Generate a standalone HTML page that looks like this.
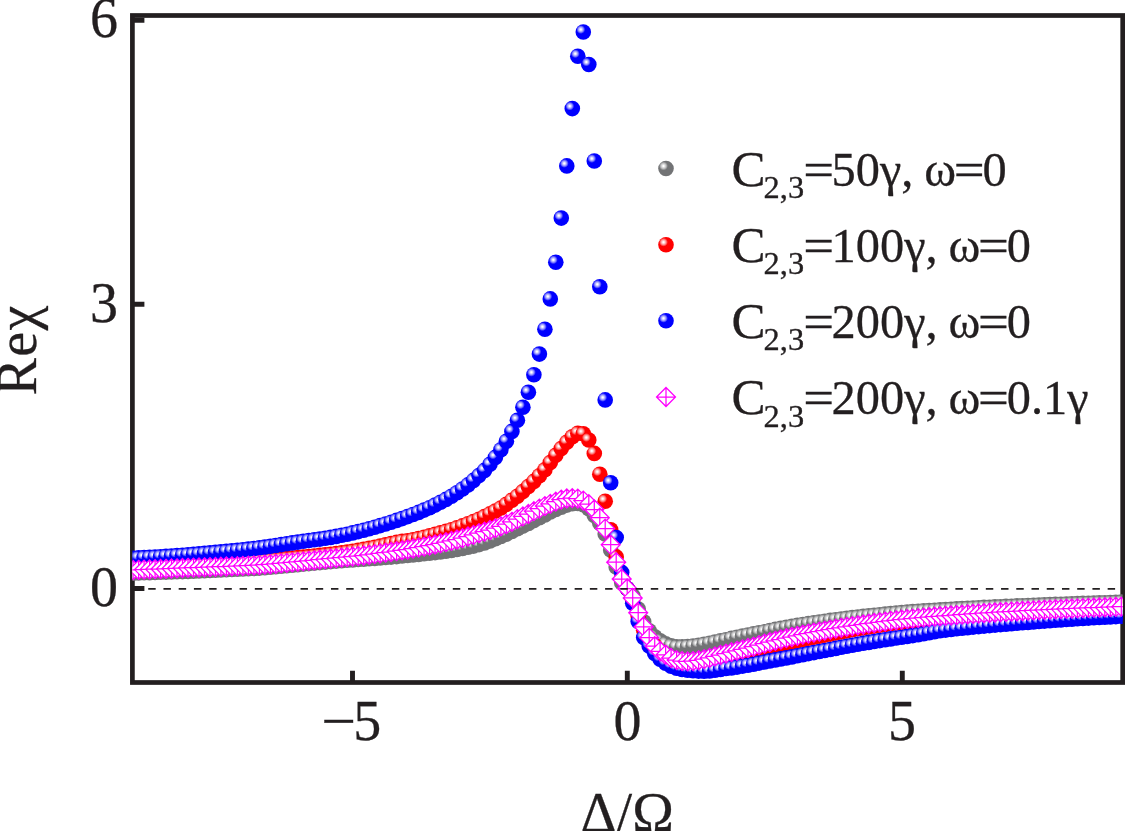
<!DOCTYPE html>
<html><head><meta charset="utf-8"><title>Re chi vs Delta/Omega</title>
<style>
html,body{margin:0;padding:0;background:#fff;}
body{width:1125px;height:831px;overflow:hidden;position:relative;}
svg{position:absolute;left:0;top:0;display:block;}
text{font-family:"Liberation Serif",serif;fill:#231f20;stroke:#231f20;stroke-width:0.3px;}
</style></head><body>
<svg width="1125" height="831" viewBox="0 0 1125 831">
<defs>
<radialGradient id="gg" gradientUnits="userSpaceOnUse" cx="-2.5" cy="-2.5" r="4.4"><stop offset="0" stop-color="#fff"/><stop offset="0.12" stop-color="#fff"/><stop offset="0.6" stop-color="#bfbfc0"/><stop offset="1" stop-color="#727375"/></radialGradient>
<radialGradient id="gr" gradientUnits="userSpaceOnUse" cx="-2.5" cy="-2.5" r="4.4"><stop offset="0" stop-color="#fff"/><stop offset="0.12" stop-color="#fff"/><stop offset="0.6" stop-color="#ff8c8c"/><stop offset="1" stop-color="#ff0000"/></radialGradient>
<radialGradient id="gb" gradientUnits="userSpaceOnUse" cx="-2.5" cy="-2.5" r="4.4"><stop offset="0" stop-color="#fff"/><stop offset="0.12" stop-color="#fff"/><stop offset="0.6" stop-color="#8c8cff"/><stop offset="1" stop-color="#0000ff"/></radialGradient>
<circle id="b" r="7.8"/>
<path id="d" d="M0-9.5L9.5 0L0 9.5L-9.5 0ZM0-9.5V9.5M-9.5 0H9.5" fill="#fff" stroke="#ff00ff" stroke-width="1.25" stroke-linejoin="miter"/>
<clipPath id="cp"><rect x="132.4" y="15.5" width="990.3" height="667"/></clipPath>
</defs>
<rect x="132.4" y="15.5" width="990.3" height="667" fill="none" stroke="#231f20" stroke-width="4.7"/>
<g stroke="#231f20" stroke-width="4.9" fill="none">
<path d="M134 20.3H144.4M134 304.2H144.4M134 588.5H144.4"/>
<path d="M352.5 681V670.8M627.3 681V670.8M902.3 681V670.8"/>
</g>
<g clip-path="url(#cp)">
<g fill="url(#gg)"><use href="#b" x="133.1" y="573.2"/><use href="#b" x="138.6" y="573.0"/><use href="#b" x="144.1" y="572.8"/><use href="#b" x="149.6" y="572.7"/><use href="#b" x="155.1" y="572.5"/><use href="#b" x="160.6" y="572.3"/><use href="#b" x="166.0" y="572.1"/><use href="#b" x="171.5" y="572.0"/><use href="#b" x="177.0" y="571.8"/><use href="#b" x="182.5" y="571.6"/><use href="#b" x="188.0" y="571.4"/><use href="#b" x="193.5" y="571.2"/><use href="#b" x="199.0" y="570.9"/><use href="#b" x="204.5" y="570.7"/><use href="#b" x="210.0" y="570.5"/><use href="#b" x="215.5" y="570.3"/><use href="#b" x="220.9" y="570.0"/><use href="#b" x="226.4" y="569.8"/><use href="#b" x="231.9" y="569.5"/><use href="#b" x="237.4" y="569.3"/><use href="#b" x="242.9" y="569.0"/><use href="#b" x="248.4" y="568.7"/><use href="#b" x="253.9" y="568.4"/><use href="#b" x="259.4" y="568.1"/><use href="#b" x="264.9" y="567.7"/><use href="#b" x="270.4" y="567.3"/><use href="#b" x="275.8" y="566.8"/><use href="#b" x="281.3" y="566.3"/><use href="#b" x="286.8" y="565.8"/><use href="#b" x="292.3" y="565.2"/><use href="#b" x="297.8" y="564.7"/><use href="#b" x="303.3" y="564.1"/><use href="#b" x="308.8" y="563.6"/><use href="#b" x="314.3" y="563.1"/><use href="#b" x="319.8" y="562.6"/><use href="#b" x="325.3" y="562.1"/><use href="#b" x="330.7" y="561.6"/><use href="#b" x="336.2" y="561.1"/><use href="#b" x="341.7" y="560.7"/><use href="#b" x="347.2" y="560.3"/><use href="#b" x="352.7" y="559.9"/><use href="#b" x="358.2" y="559.5"/><use href="#b" x="363.7" y="559.2"/><use href="#b" x="369.2" y="558.8"/><use href="#b" x="374.7" y="558.4"/><use href="#b" x="380.2" y="557.9"/><use href="#b" x="385.6" y="557.5"/><use href="#b" x="391.1" y="557.1"/><use href="#b" x="396.6" y="556.6"/><use href="#b" x="402.1" y="556.0"/><use href="#b" x="407.6" y="555.5"/><use href="#b" x="413.1" y="554.9"/><use href="#b" x="418.6" y="554.4"/><use href="#b" x="424.1" y="553.8"/><use href="#b" x="429.6" y="553.3"/><use href="#b" x="435.1" y="552.6"/><use href="#b" x="440.5" y="552.0"/><use href="#b" x="446.0" y="551.2"/><use href="#b" x="451.5" y="550.4"/><use href="#b" x="457.0" y="549.5"/><use href="#b" x="462.5" y="548.5"/><use href="#b" x="468.0" y="547.3"/><use href="#b" x="473.5" y="546.1"/><use href="#b" x="479.0" y="544.6"/><use href="#b" x="484.5" y="542.9"/><use href="#b" x="490.0" y="540.9"/><use href="#b" x="495.4" y="538.8"/><use href="#b" x="500.9" y="536.5"/><use href="#b" x="506.4" y="534.1"/><use href="#b" x="511.9" y="531.5"/><use href="#b" x="517.4" y="528.7"/><use href="#b" x="522.9" y="526.1"/><use href="#b" x="528.4" y="523.4"/><use href="#b" x="533.9" y="520.6"/><use href="#b" x="539.4" y="517.8"/><use href="#b" x="544.9" y="514.9"/><use href="#b" x="550.3" y="512.0"/><use href="#b" x="555.8" y="509.4"/><use href="#b" x="561.3" y="507.2"/><use href="#b" x="566.8" y="505.1"/><use href="#b" x="572.3" y="503.7"/><use href="#b" x="577.8" y="503.4"/><use href="#b" x="583.3" y="504.7"/><use href="#b" x="588.8" y="508.7"/><use href="#b" x="594.3" y="515.4"/><use href="#b" x="599.8" y="523.2"/><use href="#b" x="605.2" y="534.0"/><use href="#b" x="610.7" y="549.9"/><use href="#b" x="616.2" y="567.0"/><use href="#b" x="621.7" y="582.8"/><use href="#b" x="627.2" y="588.5"/><use href="#b" x="632.7" y="595.6"/><use href="#b" x="638.2" y="609.0"/><use href="#b" x="643.7" y="621.7"/><use href="#b" x="649.2" y="630.8"/><use href="#b" x="654.7" y="636.7"/><use href="#b" x="660.1" y="640.8"/><use href="#b" x="665.6" y="643.8"/><use href="#b" x="671.1" y="645.8"/><use href="#b" x="676.6" y="646.9"/><use href="#b" x="682.1" y="646.9"/><use href="#b" x="687.6" y="646.6"/><use href="#b" x="693.1" y="646.0"/><use href="#b" x="698.6" y="645.3"/><use href="#b" x="704.1" y="644.3"/><use href="#b" x="709.6" y="643.2"/><use href="#b" x="715.0" y="642.1"/><use href="#b" x="720.5" y="640.9"/><use href="#b" x="726.0" y="639.7"/><use href="#b" x="731.5" y="638.4"/><use href="#b" x="737.0" y="637.2"/><use href="#b" x="742.5" y="636.1"/><use href="#b" x="748.0" y="635.0"/><use href="#b" x="753.5" y="633.9"/><use href="#b" x="759.0" y="632.8"/><use href="#b" x="764.5" y="631.7"/><use href="#b" x="769.9" y="630.5"/><use href="#b" x="775.4" y="629.4"/><use href="#b" x="780.9" y="628.4"/><use href="#b" x="786.4" y="627.4"/><use href="#b" x="791.9" y="626.4"/><use href="#b" x="797.4" y="625.4"/><use href="#b" x="802.9" y="624.5"/><use href="#b" x="808.4" y="623.6"/><use href="#b" x="813.9" y="622.8"/><use href="#b" x="819.4" y="622.0"/><use href="#b" x="824.8" y="621.2"/><use href="#b" x="830.3" y="620.4"/><use href="#b" x="835.8" y="619.7"/><use href="#b" x="841.3" y="619.0"/><use href="#b" x="846.8" y="618.3"/><use href="#b" x="852.3" y="617.6"/><use href="#b" x="857.8" y="617.0"/><use href="#b" x="863.3" y="616.4"/><use href="#b" x="868.8" y="615.8"/><use href="#b" x="874.2" y="615.2"/><use href="#b" x="879.7" y="614.7"/><use href="#b" x="885.2" y="614.1"/><use href="#b" x="890.7" y="613.6"/><use href="#b" x="896.2" y="613.0"/><use href="#b" x="901.7" y="612.5"/><use href="#b" x="907.2" y="612.0"/><use href="#b" x="912.7" y="611.6"/><use href="#b" x="918.2" y="611.2"/><use href="#b" x="923.7" y="610.8"/><use href="#b" x="929.2" y="610.5"/><use href="#b" x="934.6" y="610.2"/><use href="#b" x="940.1" y="609.9"/><use href="#b" x="945.6" y="609.6"/><use href="#b" x="951.1" y="609.2"/><use href="#b" x="956.6" y="608.9"/><use href="#b" x="962.1" y="608.6"/><use href="#b" x="967.6" y="608.3"/><use href="#b" x="973.1" y="608.0"/><use href="#b" x="978.6" y="607.7"/><use href="#b" x="984.0" y="607.4"/><use href="#b" x="989.5" y="607.2"/><use href="#b" x="995.0" y="606.9"/><use href="#b" x="1000.5" y="606.7"/><use href="#b" x="1006.0" y="606.4"/><use href="#b" x="1011.5" y="606.2"/><use href="#b" x="1017.0" y="605.9"/><use href="#b" x="1022.5" y="605.7"/><use href="#b" x="1028.0" y="605.5"/><use href="#b" x="1033.5" y="605.2"/><use href="#b" x="1039.0" y="605.0"/><use href="#b" x="1044.4" y="604.8"/><use href="#b" x="1049.9" y="604.6"/><use href="#b" x="1055.4" y="604.4"/><use href="#b" x="1060.9" y="604.2"/><use href="#b" x="1066.4" y="604.0"/><use href="#b" x="1071.9" y="603.8"/><use href="#b" x="1077.4" y="603.6"/><use href="#b" x="1082.9" y="603.4"/><use href="#b" x="1088.4" y="603.2"/><use href="#b" x="1093.8" y="603.0"/><use href="#b" x="1099.3" y="602.8"/><use href="#b" x="1104.8" y="602.7"/><use href="#b" x="1110.3" y="602.5"/><use href="#b" x="1115.8" y="602.3"/><use href="#b" x="1121.3" y="602.1"/></g>
<g fill="url(#gr)"><use href="#b" x="133.1" y="566.3"/><use href="#b" x="138.6" y="566.2"/><use href="#b" x="144.1" y="566.1"/><use href="#b" x="149.6" y="565.9"/><use href="#b" x="155.1" y="565.8"/><use href="#b" x="160.6" y="565.7"/><use href="#b" x="166.0" y="565.5"/><use href="#b" x="171.5" y="565.3"/><use href="#b" x="177.0" y="565.2"/><use href="#b" x="182.5" y="565.0"/><use href="#b" x="188.0" y="564.7"/><use href="#b" x="193.5" y="564.5"/><use href="#b" x="199.0" y="564.3"/><use href="#b" x="204.5" y="564.0"/><use href="#b" x="210.0" y="563.8"/><use href="#b" x="215.5" y="563.5"/><use href="#b" x="220.9" y="563.2"/><use href="#b" x="226.4" y="562.9"/><use href="#b" x="231.9" y="562.6"/><use href="#b" x="237.4" y="562.3"/><use href="#b" x="242.9" y="561.9"/><use href="#b" x="248.4" y="561.6"/><use href="#b" x="253.9" y="561.2"/><use href="#b" x="259.4" y="560.8"/><use href="#b" x="264.9" y="560.4"/><use href="#b" x="270.4" y="560.0"/><use href="#b" x="275.8" y="559.5"/><use href="#b" x="281.3" y="559.1"/><use href="#b" x="286.8" y="558.6"/><use href="#b" x="292.3" y="558.1"/><use href="#b" x="297.8" y="557.6"/><use href="#b" x="303.3" y="557.1"/><use href="#b" x="308.8" y="556.6"/><use href="#b" x="314.3" y="556.0"/><use href="#b" x="319.8" y="555.4"/><use href="#b" x="325.3" y="554.8"/><use href="#b" x="330.7" y="554.2"/><use href="#b" x="336.2" y="553.5"/><use href="#b" x="341.7" y="552.8"/><use href="#b" x="347.2" y="552.0"/><use href="#b" x="352.7" y="551.2"/><use href="#b" x="358.2" y="550.3"/><use href="#b" x="363.7" y="549.3"/><use href="#b" x="369.2" y="548.2"/><use href="#b" x="374.7" y="547.2"/><use href="#b" x="380.2" y="546.1"/><use href="#b" x="385.6" y="544.9"/><use href="#b" x="391.1" y="543.6"/><use href="#b" x="396.6" y="542.4"/><use href="#b" x="402.1" y="541.2"/><use href="#b" x="407.6" y="540.8"/><use href="#b" x="413.1" y="539.7"/><use href="#b" x="418.6" y="538.5"/><use href="#b" x="424.1" y="537.2"/><use href="#b" x="429.6" y="535.8"/><use href="#b" x="435.1" y="534.3"/><use href="#b" x="440.5" y="532.9"/><use href="#b" x="446.0" y="531.3"/><use href="#b" x="451.5" y="529.7"/><use href="#b" x="457.0" y="527.8"/><use href="#b" x="462.5" y="525.9"/><use href="#b" x="468.0" y="523.8"/><use href="#b" x="473.5" y="521.6"/><use href="#b" x="479.0" y="519.2"/><use href="#b" x="484.5" y="516.6"/><use href="#b" x="490.0" y="513.9"/><use href="#b" x="495.4" y="511.1"/><use href="#b" x="500.9" y="508.0"/><use href="#b" x="506.4" y="504.3"/><use href="#b" x="511.9" y="500.2"/><use href="#b" x="517.4" y="496.2"/><use href="#b" x="522.9" y="491.6"/><use href="#b" x="528.4" y="486.5"/><use href="#b" x="533.9" y="481.4"/><use href="#b" x="539.4" y="475.7"/><use href="#b" x="544.9" y="469.8"/><use href="#b" x="550.3" y="462.6"/><use href="#b" x="555.8" y="455.3"/><use href="#b" x="561.3" y="448.6"/><use href="#b" x="566.8" y="442.3"/><use href="#b" x="572.3" y="436.8"/><use href="#b" x="577.8" y="433.2"/><use href="#b" x="583.3" y="433.7"/><use href="#b" x="588.8" y="440.0"/><use href="#b" x="594.3" y="453.4"/><use href="#b" x="599.8" y="474.2"/><use href="#b" x="605.2" y="501.2"/><use href="#b" x="610.7" y="529.8"/><use href="#b" x="616.2" y="556.9"/><use href="#b" x="621.7" y="578.1"/><use href="#b" x="627.2" y="588.5"/><use href="#b" x="632.7" y="599.9"/><use href="#b" x="638.2" y="616.0"/><use href="#b" x="643.7" y="630.2"/><use href="#b" x="649.2" y="638.5"/><use href="#b" x="654.7" y="645.5"/><use href="#b" x="660.1" y="651.2"/><use href="#b" x="665.6" y="655.7"/><use href="#b" x="671.1" y="659.1"/><use href="#b" x="676.6" y="661.5"/><use href="#b" x="682.1" y="663.1"/><use href="#b" x="687.6" y="663.9"/><use href="#b" x="693.1" y="664.2"/><use href="#b" x="698.6" y="664.1"/><use href="#b" x="704.1" y="663.5"/><use href="#b" x="709.6" y="662.6"/><use href="#b" x="715.0" y="661.4"/><use href="#b" x="720.5" y="660.0"/><use href="#b" x="726.0" y="658.5"/><use href="#b" x="731.5" y="657.3"/><use href="#b" x="737.0" y="656.0"/><use href="#b" x="742.5" y="654.6"/><use href="#b" x="748.0" y="653.3"/><use href="#b" x="753.5" y="652.0"/><use href="#b" x="759.0" y="650.4"/><use href="#b" x="764.5" y="648.9"/><use href="#b" x="769.9" y="647.4"/><use href="#b" x="775.4" y="646.0"/><use href="#b" x="780.9" y="644.6"/><use href="#b" x="786.4" y="643.2"/><use href="#b" x="791.9" y="642.0"/><use href="#b" x="797.4" y="640.7"/><use href="#b" x="802.9" y="639.5"/><use href="#b" x="808.4" y="638.3"/><use href="#b" x="813.9" y="637.2"/><use href="#b" x="819.4" y="636.2"/><use href="#b" x="824.8" y="635.1"/><use href="#b" x="830.3" y="634.1"/><use href="#b" x="835.8" y="633.0"/><use href="#b" x="841.3" y="631.9"/><use href="#b" x="846.8" y="630.9"/><use href="#b" x="852.3" y="629.8"/><use href="#b" x="857.8" y="628.8"/><use href="#b" x="863.3" y="627.9"/><use href="#b" x="868.8" y="626.9"/><use href="#b" x="874.2" y="626.1"/><use href="#b" x="879.7" y="625.2"/><use href="#b" x="885.2" y="624.4"/><use href="#b" x="890.7" y="623.6"/><use href="#b" x="896.2" y="622.9"/><use href="#b" x="901.7" y="622.2"/><use href="#b" x="907.2" y="621.6"/><use href="#b" x="912.7" y="621.1"/><use href="#b" x="918.2" y="620.5"/><use href="#b" x="923.7" y="620.0"/><use href="#b" x="929.2" y="619.4"/><use href="#b" x="934.6" y="618.9"/><use href="#b" x="940.1" y="618.4"/><use href="#b" x="945.6" y="617.9"/><use href="#b" x="951.1" y="617.4"/><use href="#b" x="956.6" y="617.0"/><use href="#b" x="962.1" y="616.5"/><use href="#b" x="967.6" y="616.1"/><use href="#b" x="973.1" y="615.7"/><use href="#b" x="978.6" y="615.3"/><use href="#b" x="984.0" y="614.8"/><use href="#b" x="989.5" y="614.5"/><use href="#b" x="995.0" y="614.1"/><use href="#b" x="1000.5" y="613.7"/><use href="#b" x="1006.0" y="613.3"/><use href="#b" x="1011.5" y="613.0"/><use href="#b" x="1017.0" y="612.7"/><use href="#b" x="1022.5" y="612.3"/><use href="#b" x="1028.0" y="612.0"/><use href="#b" x="1033.5" y="611.7"/><use href="#b" x="1039.0" y="611.4"/><use href="#b" x="1044.4" y="611.1"/><use href="#b" x="1049.9" y="610.8"/><use href="#b" x="1055.4" y="610.5"/><use href="#b" x="1060.9" y="610.2"/><use href="#b" x="1066.4" y="609.9"/><use href="#b" x="1071.9" y="609.6"/><use href="#b" x="1077.4" y="609.4"/><use href="#b" x="1082.9" y="609.1"/><use href="#b" x="1088.4" y="608.9"/><use href="#b" x="1093.8" y="608.6"/><use href="#b" x="1099.3" y="608.4"/><use href="#b" x="1104.8" y="608.1"/><use href="#b" x="1110.3" y="607.9"/><use href="#b" x="1115.8" y="607.7"/><use href="#b" x="1121.3" y="607.4"/></g>
<g fill="url(#gb)"><use href="#b" x="133.1" y="558.2"/><use href="#b" x="138.6" y="557.9"/><use href="#b" x="144.1" y="557.6"/><use href="#b" x="149.6" y="557.3"/><use href="#b" x="155.1" y="557.0"/><use href="#b" x="160.6" y="556.7"/><use href="#b" x="166.0" y="556.3"/><use href="#b" x="171.5" y="556.0"/><use href="#b" x="177.0" y="555.6"/><use href="#b" x="182.5" y="555.2"/><use href="#b" x="188.0" y="554.8"/><use href="#b" x="193.5" y="554.3"/><use href="#b" x="199.0" y="553.9"/><use href="#b" x="204.5" y="553.4"/><use href="#b" x="210.0" y="552.9"/><use href="#b" x="215.5" y="552.4"/><use href="#b" x="220.9" y="551.9"/><use href="#b" x="226.4" y="551.4"/><use href="#b" x="231.9" y="550.9"/><use href="#b" x="237.4" y="550.3"/><use href="#b" x="242.9" y="549.7"/><use href="#b" x="248.4" y="549.1"/><use href="#b" x="253.9" y="548.5"/><use href="#b" x="259.4" y="547.8"/><use href="#b" x="264.9" y="547.1"/><use href="#b" x="270.4" y="546.3"/><use href="#b" x="275.8" y="545.5"/><use href="#b" x="281.3" y="544.6"/><use href="#b" x="286.8" y="543.8"/><use href="#b" x="292.3" y="542.9"/><use href="#b" x="297.8" y="542.1"/><use href="#b" x="303.3" y="541.3"/><use href="#b" x="308.8" y="540.5"/><use href="#b" x="314.3" y="539.8"/><use href="#b" x="319.8" y="539.1"/><use href="#b" x="325.3" y="538.3"/><use href="#b" x="330.7" y="537.4"/><use href="#b" x="336.2" y="536.4"/><use href="#b" x="341.7" y="535.3"/><use href="#b" x="347.2" y="534.2"/><use href="#b" x="352.7" y="532.9"/><use href="#b" x="358.2" y="531.6"/><use href="#b" x="363.7" y="530.2"/><use href="#b" x="369.2" y="528.8"/><use href="#b" x="374.7" y="527.2"/><use href="#b" x="380.2" y="525.6"/><use href="#b" x="385.6" y="524.0"/><use href="#b" x="391.1" y="522.2"/><use href="#b" x="396.6" y="520.4"/><use href="#b" x="402.1" y="518.6"/><use href="#b" x="407.6" y="516.6"/><use href="#b" x="413.1" y="514.5"/><use href="#b" x="418.6" y="512.4"/><use href="#b" x="424.1" y="510.1"/><use href="#b" x="429.6" y="507.7"/><use href="#b" x="435.1" y="505.1"/><use href="#b" x="440.5" y="502.3"/><use href="#b" x="446.0" y="499.4"/><use href="#b" x="451.5" y="496.2"/><use href="#b" x="457.0" y="492.7"/><use href="#b" x="462.5" y="489.0"/><use href="#b" x="468.0" y="484.9"/><use href="#b" x="473.5" y="480.4"/><use href="#b" x="479.0" y="475.6"/><use href="#b" x="484.5" y="470.4"/><use href="#b" x="490.0" y="464.3"/><use href="#b" x="495.4" y="457.4"/><use href="#b" x="500.9" y="449.8"/><use href="#b" x="506.4" y="441.2"/><use href="#b" x="511.9" y="431.4"/><use href="#b" x="517.4" y="420.3"/><use href="#b" x="522.9" y="407.3"/><use href="#b" x="528.4" y="392.3"/><use href="#b" x="533.9" y="374.8"/><use href="#b" x="539.4" y="354.1"/><use href="#b" x="544.9" y="329.2"/><use href="#b" x="550.3" y="298.9"/><use href="#b" x="555.8" y="262.3"/><use href="#b" x="561.3" y="218.1"/><use href="#b" x="566.8" y="165.9"/><use href="#b" x="572.3" y="108.6"/><use href="#b" x="577.8" y="56.2"/><use href="#b" x="583.3" y="32.0"/><use href="#b" x="588.8" y="64.5"/><use href="#b" x="594.3" y="161.0"/><use href="#b" x="599.8" y="286.8"/><use href="#b" x="605.2" y="399.9"/><use href="#b" x="610.7" y="482.8"/><use href="#b" x="616.2" y="537.5"/><use href="#b" x="621.7" y="572.4"/><use href="#b" x="627.2" y="588.5"/><use href="#b" x="632.7" y="603.2"/><use href="#b" x="638.2" y="621.4"/><use href="#b" x="643.7" y="637.6"/><use href="#b" x="649.2" y="646.1"/><use href="#b" x="654.7" y="653.5"/><use href="#b" x="660.1" y="659.3"/><use href="#b" x="665.6" y="663.3"/><use href="#b" x="671.1" y="666.2"/><use href="#b" x="676.6" y="668.2"/><use href="#b" x="682.1" y="669.5"/><use href="#b" x="687.6" y="670.3"/><use href="#b" x="693.1" y="670.8"/><use href="#b" x="698.6" y="671.1"/><use href="#b" x="704.1" y="671.2"/><use href="#b" x="709.6" y="670.9"/><use href="#b" x="715.0" y="670.3"/><use href="#b" x="720.5" y="669.5"/><use href="#b" x="726.0" y="668.5"/><use href="#b" x="731.5" y="667.9"/><use href="#b" x="737.0" y="667.1"/><use href="#b" x="742.5" y="666.1"/><use href="#b" x="748.0" y="665.2"/><use href="#b" x="753.5" y="664.3"/><use href="#b" x="759.0" y="663.1"/><use href="#b" x="764.5" y="662.0"/><use href="#b" x="769.9" y="660.9"/><use href="#b" x="775.4" y="659.9"/><use href="#b" x="780.9" y="658.9"/><use href="#b" x="786.4" y="657.9"/><use href="#b" x="791.9" y="656.9"/><use href="#b" x="797.4" y="655.8"/><use href="#b" x="802.9" y="654.7"/><use href="#b" x="808.4" y="653.6"/><use href="#b" x="813.9" y="652.6"/><use href="#b" x="819.4" y="651.5"/><use href="#b" x="824.8" y="650.5"/><use href="#b" x="830.3" y="649.5"/><use href="#b" x="835.8" y="648.4"/><use href="#b" x="841.3" y="647.3"/><use href="#b" x="846.8" y="646.3"/><use href="#b" x="852.3" y="645.3"/><use href="#b" x="857.8" y="644.3"/><use href="#b" x="863.3" y="643.3"/><use href="#b" x="868.8" y="642.4"/><use href="#b" x="874.2" y="641.5"/><use href="#b" x="879.7" y="640.6"/><use href="#b" x="885.2" y="639.7"/><use href="#b" x="890.7" y="638.9"/><use href="#b" x="896.2" y="638.0"/><use href="#b" x="901.7" y="637.2"/><use href="#b" x="907.2" y="636.4"/><use href="#b" x="912.7" y="635.6"/><use href="#b" x="918.2" y="634.7"/><use href="#b" x="923.7" y="633.8"/><use href="#b" x="929.2" y="632.7"/><use href="#b" x="934.6" y="631.7"/><use href="#b" x="940.1" y="630.8"/><use href="#b" x="945.6" y="630.1"/><use href="#b" x="951.1" y="629.4"/><use href="#b" x="956.6" y="628.8"/><use href="#b" x="962.1" y="628.2"/><use href="#b" x="967.6" y="627.7"/><use href="#b" x="973.1" y="627.1"/><use href="#b" x="978.6" y="626.6"/><use href="#b" x="984.0" y="626.1"/><use href="#b" x="989.5" y="625.6"/><use href="#b" x="995.0" y="625.1"/><use href="#b" x="1000.5" y="624.6"/><use href="#b" x="1006.0" y="624.2"/><use href="#b" x="1011.5" y="623.7"/><use href="#b" x="1017.0" y="623.3"/><use href="#b" x="1022.5" y="622.8"/><use href="#b" x="1028.0" y="622.4"/><use href="#b" x="1033.5" y="621.9"/><use href="#b" x="1039.0" y="621.5"/><use href="#b" x="1044.4" y="621.1"/><use href="#b" x="1049.9" y="620.7"/><use href="#b" x="1055.4" y="620.3"/><use href="#b" x="1060.9" y="619.9"/><use href="#b" x="1066.4" y="619.5"/><use href="#b" x="1071.9" y="619.2"/><use href="#b" x="1077.4" y="618.8"/><use href="#b" x="1082.9" y="618.5"/><use href="#b" x="1088.4" y="618.1"/><use href="#b" x="1093.8" y="617.8"/><use href="#b" x="1099.3" y="617.5"/><use href="#b" x="1104.8" y="617.2"/><use href="#b" x="1110.3" y="616.9"/><use href="#b" x="1115.8" y="616.6"/><use href="#b" x="1121.3" y="616.3"/></g>
<g><use href="#d" x="133.1" y="570.0"/><use href="#d" x="138.6" y="569.8"/><use href="#d" x="144.1" y="569.6"/><use href="#d" x="149.6" y="569.4"/><use href="#d" x="155.1" y="569.2"/><use href="#d" x="160.6" y="569.0"/><use href="#d" x="166.0" y="568.8"/><use href="#d" x="171.5" y="568.5"/><use href="#d" x="177.0" y="568.3"/><use href="#d" x="182.5" y="568.0"/><use href="#d" x="188.0" y="567.8"/><use href="#d" x="193.5" y="567.6"/><use href="#d" x="199.0" y="567.5"/><use href="#d" x="204.5" y="567.3"/><use href="#d" x="210.0" y="567.1"/><use href="#d" x="215.5" y="566.9"/><use href="#d" x="220.9" y="566.7"/><use href="#d" x="226.4" y="566.5"/><use href="#d" x="231.9" y="566.3"/><use href="#d" x="237.4" y="566.1"/><use href="#d" x="242.9" y="565.9"/><use href="#d" x="248.4" y="565.6"/><use href="#d" x="253.9" y="565.4"/><use href="#d" x="259.4" y="565.1"/><use href="#d" x="264.9" y="564.7"/><use href="#d" x="270.4" y="564.3"/><use href="#d" x="275.8" y="563.9"/><use href="#d" x="281.3" y="563.4"/><use href="#d" x="286.8" y="562.9"/><use href="#d" x="292.3" y="562.4"/><use href="#d" x="297.8" y="561.9"/><use href="#d" x="303.3" y="561.4"/><use href="#d" x="308.8" y="560.8"/><use href="#d" x="314.3" y="560.3"/><use href="#d" x="319.8" y="559.7"/><use href="#d" x="325.3" y="559.2"/><use href="#d" x="330.7" y="558.7"/><use href="#d" x="336.2" y="558.2"/><use href="#d" x="341.7" y="557.7"/><use href="#d" x="347.2" y="557.2"/><use href="#d" x="352.7" y="556.7"/><use href="#d" x="358.2" y="556.1"/><use href="#d" x="363.7" y="555.5"/><use href="#d" x="369.2" y="554.8"/><use href="#d" x="374.7" y="554.1"/><use href="#d" x="380.2" y="553.4"/><use href="#d" x="385.6" y="552.7"/><use href="#d" x="391.1" y="552.0"/><use href="#d" x="396.6" y="551.2"/><use href="#d" x="402.1" y="550.3"/><use href="#d" x="407.6" y="549.5"/><use href="#d" x="413.1" y="548.5"/><use href="#d" x="418.6" y="547.6"/><use href="#d" x="424.1" y="546.6"/><use href="#d" x="429.6" y="545.5"/><use href="#d" x="435.1" y="544.5"/><use href="#d" x="440.5" y="543.4"/><use href="#d" x="446.0" y="542.2"/><use href="#d" x="451.5" y="540.9"/><use href="#d" x="457.0" y="539.5"/><use href="#d" x="462.5" y="538.1"/><use href="#d" x="468.0" y="536.5"/><use href="#d" x="473.5" y="534.9"/><use href="#d" x="479.0" y="533.2"/><use href="#d" x="484.5" y="531.7"/><use href="#d" x="490.0" y="530.0"/><use href="#d" x="495.4" y="528.2"/><use href="#d" x="500.9" y="526.3"/><use href="#d" x="506.4" y="524.2"/><use href="#d" x="511.9" y="521.8"/><use href="#d" x="517.4" y="519.1"/><use href="#d" x="522.9" y="516.4"/><use href="#d" x="528.4" y="514.0"/><use href="#d" x="533.9" y="511.2"/><use href="#d" x="539.4" y="508.6"/><use href="#d" x="544.9" y="506.1"/><use href="#d" x="550.3" y="503.9"/><use href="#d" x="555.8" y="501.7"/><use href="#d" x="561.3" y="499.6"/><use href="#d" x="566.8" y="498.5"/><use href="#d" x="572.3" y="498.2"/><use href="#d" x="577.8" y="498.6"/><use href="#d" x="583.3" y="500.6"/><use href="#d" x="588.8" y="504.2"/><use href="#d" x="594.3" y="509.5"/><use href="#d" x="599.8" y="517.7"/><use href="#d" x="605.2" y="528.6"/><use href="#d" x="610.7" y="544.7"/><use href="#d" x="616.2" y="562.2"/><use href="#d" x="621.7" y="579.0"/><use href="#d" x="627.2" y="588.5"/><use href="#d" x="632.7" y="597.9"/><use href="#d" x="638.2" y="612.7"/><use href="#d" x="643.7" y="626.8"/><use href="#d" x="649.2" y="637.7"/><use href="#d" x="654.7" y="646.2"/><use href="#d" x="660.1" y="651.3"/><use href="#d" x="665.6" y="654.8"/><use href="#d" x="671.1" y="658.0"/><use href="#d" x="676.6" y="660.1"/><use href="#d" x="682.1" y="661.1"/><use href="#d" x="687.6" y="661.4"/><use href="#d" x="693.1" y="661.1"/><use href="#d" x="698.6" y="660.3"/><use href="#d" x="704.1" y="659.2"/><use href="#d" x="709.6" y="657.9"/><use href="#d" x="715.0" y="656.4"/><use href="#d" x="720.5" y="655.0"/><use href="#d" x="726.0" y="653.6"/><use href="#d" x="731.5" y="652.2"/><use href="#d" x="737.0" y="650.8"/><use href="#d" x="742.5" y="649.4"/><use href="#d" x="748.0" y="648.0"/><use href="#d" x="753.5" y="646.7"/><use href="#d" x="759.0" y="645.1"/><use href="#d" x="764.5" y="643.6"/><use href="#d" x="769.9" y="642.2"/><use href="#d" x="775.4" y="640.8"/><use href="#d" x="780.9" y="639.5"/><use href="#d" x="786.4" y="638.2"/><use href="#d" x="791.9" y="637.0"/><use href="#d" x="797.4" y="635.9"/><use href="#d" x="802.9" y="634.7"/><use href="#d" x="808.4" y="633.6"/><use href="#d" x="813.9" y="632.6"/><use href="#d" x="819.4" y="631.6"/><use href="#d" x="824.8" y="630.7"/><use href="#d" x="830.3" y="629.7"/><use href="#d" x="835.8" y="628.7"/><use href="#d" x="841.3" y="627.8"/><use href="#d" x="846.8" y="626.9"/><use href="#d" x="852.3" y="626.1"/><use href="#d" x="857.8" y="625.3"/><use href="#d" x="863.3" y="624.5"/><use href="#d" x="868.8" y="623.7"/><use href="#d" x="874.2" y="623.0"/><use href="#d" x="879.7" y="622.3"/><use href="#d" x="885.2" y="621.6"/><use href="#d" x="890.7" y="620.9"/><use href="#d" x="896.2" y="620.3"/><use href="#d" x="901.7" y="619.6"/><use href="#d" x="907.2" y="619.1"/><use href="#d" x="912.7" y="618.6"/><use href="#d" x="918.2" y="618.1"/><use href="#d" x="923.7" y="617.6"/><use href="#d" x="929.2" y="617.2"/><use href="#d" x="934.6" y="616.7"/><use href="#d" x="940.1" y="616.3"/><use href="#d" x="945.6" y="615.9"/><use href="#d" x="951.1" y="615.5"/><use href="#d" x="956.6" y="615.1"/><use href="#d" x="962.1" y="614.7"/><use href="#d" x="967.6" y="614.3"/><use href="#d" x="973.1" y="613.9"/><use href="#d" x="978.6" y="613.6"/><use href="#d" x="984.0" y="613.2"/><use href="#d" x="989.5" y="612.9"/><use href="#d" x="995.0" y="612.5"/><use href="#d" x="1000.5" y="612.2"/><use href="#d" x="1006.0" y="611.9"/><use href="#d" x="1011.5" y="611.6"/><use href="#d" x="1017.0" y="611.3"/><use href="#d" x="1022.5" y="611.0"/><use href="#d" x="1028.0" y="610.7"/><use href="#d" x="1033.5" y="610.4"/><use href="#d" x="1039.0" y="610.1"/><use href="#d" x="1044.4" y="609.8"/><use href="#d" x="1049.9" y="609.6"/><use href="#d" x="1055.4" y="609.3"/><use href="#d" x="1060.9" y="609.1"/><use href="#d" x="1066.4" y="608.8"/><use href="#d" x="1071.9" y="608.6"/><use href="#d" x="1077.4" y="608.4"/><use href="#d" x="1082.9" y="608.1"/><use href="#d" x="1088.4" y="607.9"/><use href="#d" x="1093.8" y="607.7"/><use href="#d" x="1099.3" y="607.5"/><use href="#d" x="1104.8" y="607.3"/><use href="#d" x="1110.3" y="607.1"/><use href="#d" x="1115.8" y="606.9"/><use href="#d" x="1121.3" y="606.7"/></g>
</g>
<path d="M133 588.9H1118" stroke="#231f20" stroke-width="1.75" stroke-dasharray="7.45 7.779" fill="none"/>
<g font-size="56px">
<text x="118" y="37" text-anchor="end">6</text>
<text x="118" y="321.5" text-anchor="end">3</text>
<text x="118" y="606" text-anchor="end">0</text>
<text y="739.5"><tspan x="321.2" textLength="34.7" lengthAdjust="spacingAndGlyphs">−</tspan><tspan x="353.25">5</tspan></text>
<text x="627.5" y="739.5" text-anchor="middle">0</text>
<text x="902" y="739.5" text-anchor="middle">5</text>
<text x="627.2" y="832" text-anchor="middle">Δ/Ω</text>
<text transform="translate(36.2 395.5) rotate(-90)" letter-spacing="1.4">Reχ</text>
</g>
<g font-size="48.4px">
<text y="185.8"><tspan x="731.6" font-size="51px">C</tspan><tspan x="763.5" dy="12.2" font-size="32.5px">2,3</tspan><tspan x="803.2" dy="-12.2" textLength="30.9" lengthAdjust="spacingAndGlyphs">=</tspan><tspan x="831.5">50γ,</tspan><tspan x="924.2">ω</tspan><tspan x="953.8" textLength="30.9" lengthAdjust="spacingAndGlyphs">=</tspan><tspan x="982.6">0</tspan></text>
<text y="262.0"><tspan x="731.6" font-size="51px">C</tspan><tspan x="763.5" dy="12.2" font-size="32.5px">2,3</tspan><tspan x="803.2" dy="-12.2" textLength="30.9" lengthAdjust="spacingAndGlyphs">=</tspan><tspan x="831.6">100γ,</tspan><tspan x="948.4">ω</tspan><tspan x="978.0" textLength="30.9" lengthAdjust="spacingAndGlyphs">=</tspan><tspan x="1006.8">0</tspan></text>
<text y="338.2"><tspan x="731.6" font-size="51px">C</tspan><tspan x="763.5" dy="12.2" font-size="32.5px">2,3</tspan><tspan x="803.2" dy="-12.2" textLength="30.9" lengthAdjust="spacingAndGlyphs">=</tspan><tspan x="831.6">200γ,</tspan><tspan x="948.4">ω</tspan><tspan x="978.0" textLength="30.9" lengthAdjust="spacingAndGlyphs">=</tspan><tspan x="1006.8">0</tspan></text>
<text y="414.4"><tspan x="731.6" font-size="51px">C</tspan><tspan x="763.5" dy="12.2" font-size="32.5px">2,3</tspan><tspan x="803.2" dy="-12.2" textLength="30.9" lengthAdjust="spacingAndGlyphs">=</tspan><tspan x="831.6">200γ,</tspan><tspan x="948.4">ω</tspan><tspan x="978.0" textLength="30.9" lengthAdjust="spacingAndGlyphs">=</tspan><tspan x="1006.8">0.1γ</tspan></text>
</g>
<use href="#b" x="666" y="168.5" fill="url(#gg)"/>
<use href="#b" x="666" y="244.7" fill="url(#gr)"/>
<use href="#b" x="666" y="320.8" fill="url(#gb)"/>
<use href="#d" x="666" y="397"/>
</svg>
</body></html>
